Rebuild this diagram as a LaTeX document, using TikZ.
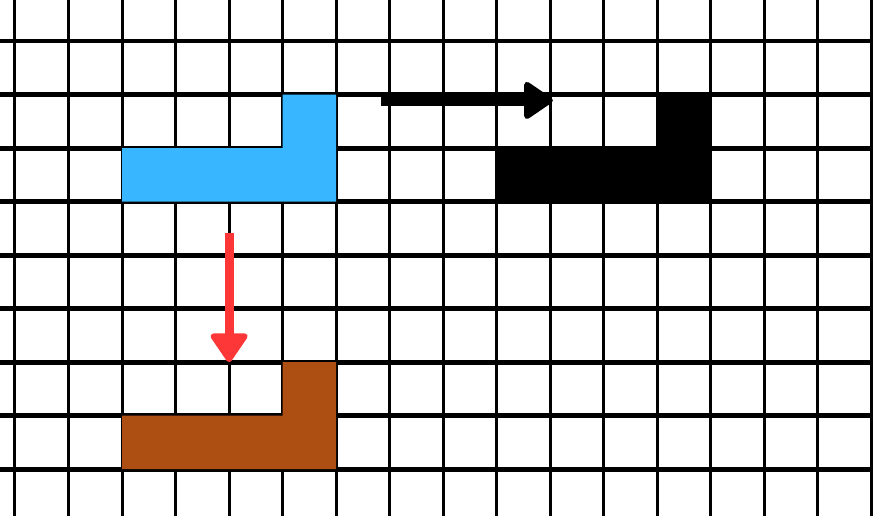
\documentclass[tikz,border=0pt]{standalone}
\usepackage{tikz}
\usetikzlibrary{arrows.meta,positioning}
\definecolor{pieceblue}{RGB}{56,182,255}
\definecolor{piecebrown}{RGB}{173,78,18}
\definecolor{arrowred}{RGB}{253,55,55}

\begin{document}
\begin{tikzpicture}[
    hline/.style={draw=black, line width=2.6pt},
    vline/.style={draw=black, line width=1.6pt},
    piece/.style={fill=#1},
    arrow/.style={-{Triangle[length=0.58cm, width=0.76cm, round, line width=3pt]}, line width=#1}
]
    \useasboundingbox (-0.28,-0.87) rectangle (16.03,8.766);

    % grid
    \foreach \y in {0,...,8}
        \draw[hline] (-0.28,\y) -- (16.03,\y);
    \foreach \x in {0,...,16}
        \draw[vline] (\x,-0.87) -- (\x,8.766);

    % pieces
    \fill[piece=pieceblue] (2,5) -- (6,5) -- (6,7) -- (5,7) -- (5,6) -- (2,6) -- cycle;
    \fill[piece=black] (9,5) -- (13,5) -- (13,7) -- (12,7) -- (12,6) -- (9,6) -- cycle;
    \fill[piece=piecebrown] (2,0) -- (6,0) -- (6,2) -- (5,2) -- (5,1) -- (2,1) -- cycle;

    % moves
    \coordinate (pushfrom) at (6.83,6.89);
    \coordinate (pushto) at (10.05,6.89);
    \coordinate (dropfrom) at (4,4.41);
    \coordinate (dropto) at (4,2);
    \draw[arrow=0.2cm, black] (pushfrom) -- (pushto);
    \draw[arrow=0.17cm, arrowred] (dropfrom) -- (dropto);
\end{tikzpicture}
\end{document}
